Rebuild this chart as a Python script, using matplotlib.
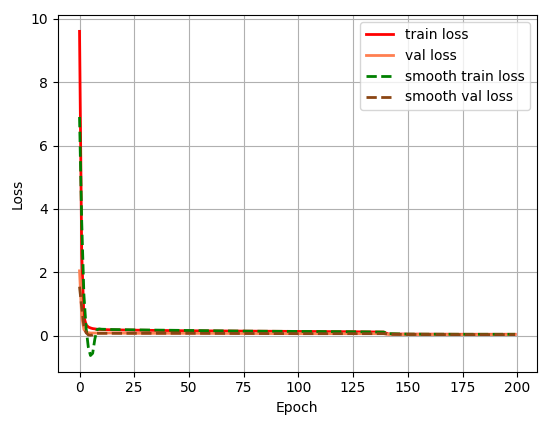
import matplotlib
matplotlib.use('Agg')
import matplotlib.pyplot as plt

epochs = [0, 1, 2, 3, 4, 5, 6, 7, 8, 9, 10, 15, 25, 50, 75, 100, 125, 139, 140, 141, 150, 175, 199]

train_loss = [9.6, 2.6, 0.6, 0.35, 0.28, 0.25, 0.23, 0.22, 0.21, 0.2, 0.2, 0.19, 0.18, 0.16, 0.15, 0.14, 0.13, 0.12, 0.09, 0.06, 0.055, 0.05, 0.05]
val_loss = [2.05, 0.6, 0.2, 0.12, 0.1, 0.09, 0.09, 0.09, 0.09, 0.09, 0.09, 0.09, 0.08, 0.08, 0.075, 0.07, 0.07, 0.07, 0.06, 0.05, 0.045, 0.04, 0.04]
smooth_train_loss = [6.9, 3.6, 1.3, 0.25, -0.35, -0.62, -0.55, -0.1, 0.2, 0.22, 0.21, 0.2, 0.19, 0.17, 0.15, 0.14, 0.13, 0.12, 0.1, 0.07, 0.055, 0.05, 0.05]
smooth_val_loss = [1.55, 0.9, 0.3, 0.1, 0.03, 0.02, 0.03, 0.07, 0.08, 0.08, 0.08, 0.08, 0.08, 0.08, 0.075, 0.07, 0.07, 0.07, 0.065, 0.05, 0.045, 0.04, 0.04]

fig = plt.figure(figsize=(5.5, 4.21), dpi=100)
plt.subplots_adjust(left=0.105, right=0.976, top=0.964, bottom=0.117)

plt.plot(epochs, train_loss, color='red', linewidth=2, label='train loss')
plt.plot(epochs, val_loss, color='coral', linewidth=2, label='val loss')
plt.plot(epochs, smooth_train_loss, color='green', linestyle='--', linewidth=2, label='smooth train loss')
plt.plot(epochs, smooth_val_loss, color='#8B4513', linestyle='--', linewidth=2, label='smooth val loss')

plt.grid(True)
plt.xlabel('Epoch')
plt.ylabel('Loss')
plt.legend(loc='upper right')
plt.savefig('out.png')
